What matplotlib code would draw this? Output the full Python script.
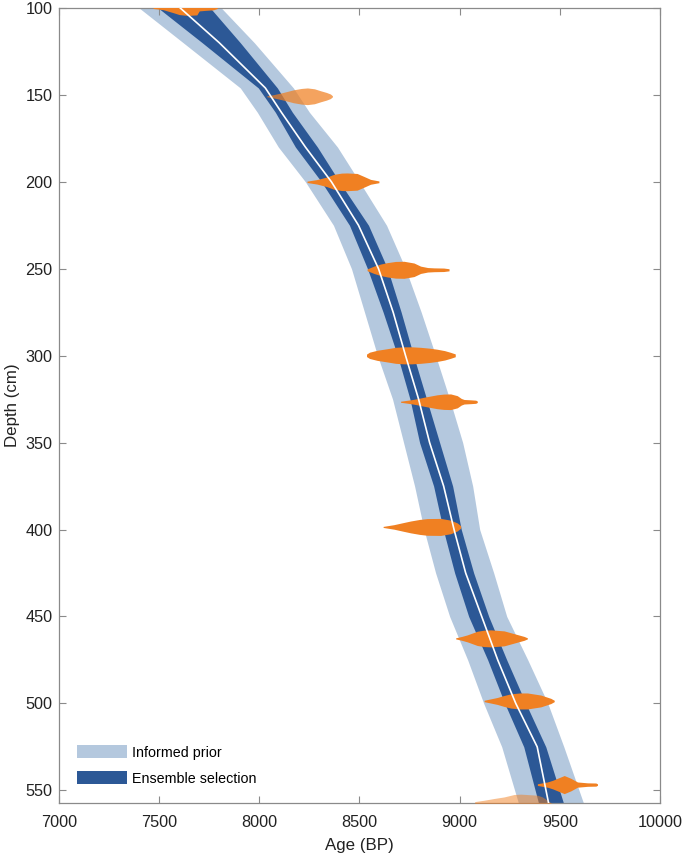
import numpy as np
import matplotlib
matplotlib.use("Agg")
import matplotlib.pyplot as plt

plt.rcParams["font.family"] = ["Liberation Sans", "DejaVu Sans"]

# age-depth model envelopes (ages BP at each depth, cm)
depth = [100, 120, 146, 160, 180, 200, 225, 250, 275, 300, 325, 350, 375, 400,
         425, 450, 475, 500, 525, 558]
prior_lo = [7400, 7620, 7905, 7990, 8095, 8230, 8370, 8460, 8525, 8590, 8665,
            8720, 8775, 8822, 8880, 8950, 9040, 9120, 9210, 9295]
prior_hi = [7810, 7975, 8170, 8250, 8390, 8500, 8635, 8730, 8808, 8880, 8950,
            9015, 9065, 9100, 9170, 9235, 9340, 9440, 9520, 9620]
ens_lo = [7495, 7715, 7995, 8080, 8180, 8310, 8450, 8540, 8618, 8690, 8752,
          8800, 8870, 8918, 8975, 9045, 9140, 9225, 9320, 9395]
ens_hi = [7755, 7905, 8090, 8165, 8290, 8400, 8545, 8640, 8708, 8770, 8835,
          8900, 8965, 9008, 9070, 9145, 9235, 9330, 9430, 9520]
median = [7605, 7800, 8030, 8110, 8230, 8360, 8495, 8595, 8668, 8730, 8795,
          8850, 8920, 8972, 9030, 9110, 9190, 9280, 9387, 9445]

# calibrated date distributions: (centre depth, ages, half-width in cm, alpha)
dates = [
    (100.0, [7470, 7520, 7570, 7600, 7640, 7688, 7700, 7730, 7770, 7790],
     [0.3, 1.0, 2.7, 3.8, 4.3, 4.0, 1.7, 1.4, 1.1, 0.3], 1.0),
    (150.8, [8038, 8070, 8105, 8140, 8170, 8210, 8240, 8275, 8305, 8335, 8355, 8365],
     [0.3, 0.9, 1.8, 2.8, 3.7, 4.5, 4.8, 4.3, 3.2, 2.2, 1.3, 0.3], 0.72),
    (200.0, [8238, 8288, 8338, 8372, 8410, 8438, 8488, 8522, 8555, 8597],
     [0.4, 1.3, 2.8, 4.3, 5.0, 5.1, 4.8, 3.1, 1.4, 0.5], 1.0),
    (250.6, [8538, 8572, 8605, 8638, 8680, 8722, 8772, 8805, 8840, 8872, 8920, 8947],
     [0.5, 2.1, 3.3, 4.1, 4.8, 4.9, 3.9, 2.1, 1.3, 1.1, 1.0, 0.6], 1.0),
    (299.8, [8535, 8550, 8588, 8638, 8680, 8722, 8760, 8805, 8850, 8888, 8925, 8955, 8978],
     [0.7, 1.8, 2.9, 3.8, 4.6, 4.9, 4.9, 4.6, 4.1, 3.5, 2.7, 1.7, 0.8], 1.0),
    (326.5, [8705, 8755, 8790, 8822, 8855, 8888, 8920, 8955, 8988, 9008, 9022, 9055, 9080, 9088],
     [0.3, 1.1, 1.8, 2.6, 3.3, 4.0, 4.4, 4.5, 3.5, 1.9, 1.3, 1.1, 0.9, 0.4], 1.0),
    (398.5, [8618, 8672, 8715, 8755, 8800, 8838, 8905, 8955, 8988, 9005],
     [0.3, 1.3, 2.4, 3.4, 4.3, 4.8, 4.9, 3.9, 2.3, 0.7], 1.0),
    (462.6, [8980, 9010, 9038, 9088, 9120, 9155, 9222, 9272, 9322, 9338],
     [0.3, 1.1, 2.0, 4.1, 4.7, 4.9, 4.3, 2.7, 1.1, 0.3], 1.0),
    (498.6, [9122, 9155, 9188, 9220, 9255, 9300, 9338, 9405, 9455, 9472],
     [0.4, 1.2, 2.0, 3.1, 4.1, 4.6, 4.6, 3.4, 1.5, 0.4], 1.0),
    (546.7, [9388, 9438, 9465, 9488, 9522, 9555, 9588, 9638, 9680, 9688],
     [0.5, 1.5, 2.5, 3.6, 5.2, 3.6, 1.5, 1.0, 0.9, 0.4], 1.0),
    (558.5, [9075, 9122, 9172, 9222, 9272, 9305, 9388, 9413, 9438, 9458],
     [2.0, 2.8, 3.8, 4.7, 6.1, 6.3, 5.7, 4.7, 2.8, 1.0], 0.5),
]

LIGHT = "#b4c8de"
DARK = "#2c5896"
ORANGE = "#f08022"
GREY = "#8a8a8a"
TEXT = "#222222"


def main() -> None:
    fig = plt.figure(figsize=(6.85, 8.56), dpi=100)
    ax = fig.add_axes([0.0861, 0.0619, 0.8774, 0.9288])

    ax.fill_betweenx(depth, prior_lo, prior_hi, color=LIGHT, lw=0, zorder=1,
                     label="Informed prior")
    ax.fill_betweenx(depth, ens_lo, ens_hi, color=DARK, lw=0, zorder=2,
                     label="Ensemble selection")

    for centre, ages, hw, a in dates:
        ages = np.array(ages, dtype=float)
        hw = np.array(hw, dtype=float)
        ax.fill_between(ages, centre - hw, centre + hw, color=ORANGE,
                        alpha=a, lw=0, zorder=3)

    ax.plot(median, depth, color="white", lw=1.2, zorder=4)

    ax.set_xlim(7000, 10000)
    ax.set_ylim(557.3, 100)
    ax.set_xticks(np.arange(7000, 10001, 500))
    ax.set_yticks(np.arange(100, 551, 50))
    ax.tick_params(direction="in", top=True, right=True, length=5, width=0.8,
                   color=GREY, labelsize=11.7, labelcolor=TEXT)
    ax.tick_params(axis="x", pad=8.5)
    ax.tick_params(axis="y", pad=4.5)
    for s in ax.spines.values():
        s.set_color(GREY)
        s.set_linewidth(0.9)

    ax.set_xlabel("Age (BP)", fontsize=12.2, color=TEXT, labelpad=6)
    ax.set_ylabel("Depth (cm)", fontsize=12.2, color=TEXT, labelpad=4)

    ax.legend(loc="lower left", bbox_to_anchor=(0.03, 0.022), frameon=False,
              fontsize=10.3, handlelength=3.5, handleheight=1.0,
              labelspacing=0.8, handletextpad=0.35, borderpad=0,
              borderaxespad=0)

    fig.savefig("out.png", dpi=100)


if __name__ == "__main__":
    main()
